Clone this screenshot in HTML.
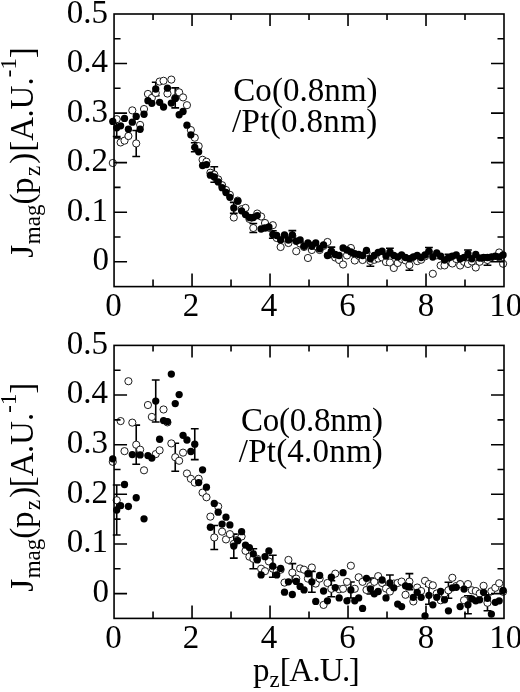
<!DOCTYPE html>
<html><head><meta charset="utf-8"><title>Magnetic Compton profiles</title>
<style>
html,body{margin:0;padding:0;background:#fff;}
body{width:520px;height:692px;overflow:hidden;position:relative;}
</style></head><body>
<svg width="520" height="692" viewBox="0 0 520 692" style="position:absolute;left:0;top:0">
<path d="M116.70 119.15V136.55M112.80 119.15h7.8M112.80 136.55h7.8M136.22 130.44V156.44M132.32 130.44h7.8M132.32 156.44h7.8M155.73 82.30V95.70M151.83 82.30h7.8M151.83 95.70h7.8M175.24 87.91V107.91M171.34 87.91h7.8M171.34 107.91h7.8M194.76 142.80V151.80M190.86 142.80h7.8M190.86 151.80h7.8M214.27 166.80V182.20M210.37 166.80h7.8M210.37 182.20h7.8M233.79 202.40V213.40M229.89 202.40h7.8M229.89 213.40h7.8M253.30 223.50V232.50M249.40 223.50h7.8M249.40 232.50h7.8M272.81 230.70V238.30M268.91 230.70h7.8M268.91 238.30h7.8M292.33 230.65V241.05M288.43 230.65h7.8M288.43 241.05h7.8M311.84 242.45V250.05M307.94 242.45h7.8M307.94 250.05h7.8M331.36 247.09V257.49M327.46 247.09h7.8M327.46 257.49h7.8M350.87 248.20V255.80M346.97 248.20h7.8M346.97 255.80h7.8M370.38 255.80V266.20M366.48 255.80h7.8M366.48 266.20h7.8M389.90 248.20V255.80M386.00 248.20h7.8M386.00 255.80h7.8M409.41 259.91V270.31M405.51 259.91h7.8M405.51 270.31h7.8M428.93 247.45V255.05M425.03 247.45h7.8M425.03 255.05h7.8M448.44 254.38V264.78M444.54 254.38h7.8M444.54 264.78h7.8M467.95 249.95V257.55M464.05 249.95h7.8M464.05 257.55h7.8M487.47 254.80V265.20M483.57 254.80h7.8M483.57 265.20h7.8" stroke="#000" stroke-width="1.6" fill="none"/>
<g fill="#fff" stroke="#111" stroke-width="0.95">
<circle cx="112.80" cy="163.00" r="3.6"/>
<circle cx="116.70" cy="119.19" r="3.6"/>
<circle cx="120.61" cy="142.45" r="3.6"/>
<circle cx="124.51" cy="140.67" r="3.6"/>
<circle cx="128.41" cy="136.02" r="3.6"/>
<circle cx="132.31" cy="110.38" r="3.6"/>
<circle cx="136.22" cy="143.44" r="3.6"/>
<circle cx="140.12" cy="124.93" r="3.6"/>
<circle cx="144.02" cy="109.04" r="3.6"/>
<circle cx="147.93" cy="93.94" r="3.6"/>
<circle cx="151.83" cy="97.91" r="3.6"/>
<circle cx="155.73" cy="92.95" r="3.6"/>
<circle cx="159.63" cy="81.57" r="3.6"/>
<circle cx="163.54" cy="80.78" r="3.6"/>
<circle cx="167.44" cy="93.55" r="3.6"/>
<circle cx="171.34" cy="79.59" r="3.6"/>
<circle cx="175.24" cy="97.91" r="3.6"/>
<circle cx="179.15" cy="92.31" r="3.6"/>
<circle cx="183.05" cy="97.41" r="3.6"/>
<circle cx="186.95" cy="105.18" r="3.6"/>
<circle cx="190.86" cy="130.08" r="3.6"/>
<circle cx="194.76" cy="137.70" r="3.6"/>
<circle cx="198.66" cy="146.17" r="3.6"/>
<circle cx="202.56" cy="159.80" r="3.6"/>
<circle cx="206.47" cy="161.70" r="3.6"/>
<circle cx="210.37" cy="172.70" r="3.6"/>
<circle cx="214.27" cy="174.50" r="3.6"/>
<circle cx="218.18" cy="179.40" r="3.6"/>
<circle cx="222.08" cy="185.20" r="3.6"/>
<circle cx="225.98" cy="190.00" r="3.6"/>
<circle cx="229.88" cy="194.80" r="3.6"/>
<circle cx="233.79" cy="217.50" r="3.6"/>
<circle cx="237.69" cy="200.64" r="3.6"/>
<circle cx="241.59" cy="209.21" r="3.6"/>
<circle cx="245.50" cy="207.90" r="3.6"/>
<circle cx="249.40" cy="218.91" r="3.6"/>
<circle cx="253.30" cy="228.00" r="3.6"/>
<circle cx="257.20" cy="213.53" r="3.6"/>
<circle cx="261.11" cy="216.50" r="3.6"/>
<circle cx="265.01" cy="223.00" r="3.6"/>
<circle cx="268.91" cy="227.72" r="3.6"/>
<circle cx="272.81" cy="225.20" r="3.6"/>
<circle cx="276.72" cy="238.00" r="3.6"/>
<circle cx="280.62" cy="247.00" r="3.6"/>
<circle cx="284.52" cy="237.69" r="3.6"/>
<circle cx="288.43" cy="243.00" r="3.6"/>
<circle cx="292.33" cy="235.85" r="3.6"/>
<circle cx="296.23" cy="251.25" r="3.6"/>
<circle cx="300.13" cy="243.54" r="3.6"/>
<circle cx="304.04" cy="246.97" r="3.6"/>
<circle cx="307.94" cy="258.00" r="3.6"/>
<circle cx="311.84" cy="250.00" r="3.6"/>
<circle cx="315.75" cy="246.10" r="3.6"/>
<circle cx="319.65" cy="250.00" r="3.6"/>
<circle cx="323.55" cy="245.92" r="3.6"/>
<circle cx="327.45" cy="242.00" r="3.6"/>
<circle cx="331.36" cy="252.29" r="3.6"/>
<circle cx="335.26" cy="257.55" r="3.6"/>
<circle cx="339.16" cy="260.00" r="3.6"/>
<circle cx="343.07" cy="264.50" r="3.6"/>
<circle cx="346.97" cy="255.46" r="3.6"/>
<circle cx="350.87" cy="248.00" r="3.6"/>
<circle cx="354.77" cy="260.50" r="3.6"/>
<circle cx="358.68" cy="255.74" r="3.6"/>
<circle cx="362.58" cy="260.00" r="3.6"/>
<circle cx="366.48" cy="252.34" r="3.6"/>
<circle cx="370.38" cy="261.00" r="3.6"/>
<circle cx="374.29" cy="259.76" r="3.6"/>
<circle cx="378.19" cy="258.50" r="3.6"/>
<circle cx="382.09" cy="257.44" r="3.6"/>
<circle cx="386.00" cy="262.00" r="3.6"/>
<circle cx="389.90" cy="262.50" r="3.6"/>
<circle cx="393.80" cy="268.00" r="3.6"/>
<circle cx="397.70" cy="263.00" r="3.6"/>
<circle cx="401.61" cy="258.96" r="3.6"/>
<circle cx="405.51" cy="260.38" r="3.6"/>
<circle cx="409.41" cy="265.11" r="3.6"/>
<circle cx="413.32" cy="257.78" r="3.6"/>
<circle cx="417.22" cy="261.15" r="3.6"/>
<circle cx="421.12" cy="259.74" r="3.6"/>
<circle cx="425.02" cy="256.37" r="3.6"/>
<circle cx="428.93" cy="252.46" r="3.6"/>
<circle cx="432.83" cy="273.75" r="3.6"/>
<circle cx="436.73" cy="255.35" r="3.6"/>
<circle cx="440.64" cy="265.50" r="3.6"/>
<circle cx="444.54" cy="265.40" r="3.6"/>
<circle cx="448.44" cy="259.58" r="3.6"/>
<circle cx="452.34" cy="263.50" r="3.6"/>
<circle cx="456.25" cy="258.99" r="3.6"/>
<circle cx="460.15" cy="265.50" r="3.6"/>
<circle cx="464.05" cy="261.83" r="3.6"/>
<circle cx="467.95" cy="264.00" r="3.6"/>
<circle cx="471.86" cy="261.48" r="3.6"/>
<circle cx="475.76" cy="267.50" r="3.6"/>
<circle cx="479.66" cy="261.79" r="3.6"/>
<circle cx="483.57" cy="258.38" r="3.6"/>
<circle cx="487.47" cy="260.00" r="3.6"/>
<circle cx="491.37" cy="257.86" r="3.6"/>
<circle cx="495.27" cy="257.99" r="3.6"/>
<circle cx="499.18" cy="252.50" r="3.6"/>
<circle cx="503.08" cy="263.75" r="3.6"/>
</g>
<path d="M116.70 485.02V535.02M112.80 485.02h7.8M112.80 535.02h7.8M136.22 425.10V464.30M132.32 425.10h7.8M132.32 464.30h7.8M155.73 380.05V422.05M151.83 380.05h7.8M151.83 422.05h7.8M175.24 443.20V471.20M171.34 443.20h7.8M171.34 471.20h7.8M194.76 428.80V459.60M190.86 428.80h7.8M190.86 459.60h7.8M214.27 525.45V549.45M210.37 525.45h7.8M210.37 549.45h7.8M233.79 534.08V558.08M229.89 534.08h7.8M229.89 558.08h7.8M253.30 548.78V568.78M249.40 548.78h7.8M249.40 568.78h7.8M272.81 555.22V577.22M268.91 555.22h7.8M268.91 577.22h7.8M292.33 563.62V581.62M288.43 563.62h7.8M288.43 581.62h7.8M311.84 571.44V592.24M307.94 571.44h7.8M307.94 592.24h7.8M331.36 580.79V596.79M327.46 580.79h7.8M327.46 596.79h7.8M350.87 581.93V597.93M346.97 581.93h7.8M346.97 597.93h7.8M370.38 578.06V594.06M366.48 578.06h7.8M366.48 594.06h7.8M389.90 574.98V590.98M386.00 574.98h7.8M386.00 590.98h7.8M409.41 573.60V589.60M405.51 573.60h7.8M405.51 589.60h7.8M428.93 586.29V604.29M425.03 586.29h7.8M425.03 604.29h7.8M448.44 582.28V598.28M444.54 582.28h7.8M444.54 598.28h7.8M467.95 595.81V613.81M464.05 595.81h7.8M464.05 613.81h7.8M487.47 594.78V610.78M483.57 594.78h7.8M483.57 610.78h7.8" stroke="#000" stroke-width="1.6" fill="none"/>
<g fill="#fff" stroke="#111" stroke-width="0.95">
<circle cx="112.80" cy="461.81" r="3.6"/>
<circle cx="116.70" cy="500.25" r="3.6"/>
<circle cx="120.61" cy="421.09" r="3.6"/>
<circle cx="124.51" cy="451.15" r="3.6"/>
<circle cx="128.41" cy="381.21" r="3.6"/>
<circle cx="132.31" cy="422.63" r="3.6"/>
<circle cx="136.22" cy="444.70" r="3.6"/>
<circle cx="140.12" cy="449.66" r="3.6"/>
<circle cx="144.02" cy="470.29" r="3.6"/>
<circle cx="147.93" cy="405.02" r="3.6"/>
<circle cx="151.83" cy="416.92" r="3.6"/>
<circle cx="155.73" cy="454.12" r="3.6"/>
<circle cx="159.63" cy="450.30" r="3.6"/>
<circle cx="163.54" cy="409.48" r="3.6"/>
<circle cx="167.44" cy="422.38" r="3.6"/>
<circle cx="171.34" cy="443.41" r="3.6"/>
<circle cx="175.24" cy="457.20" r="3.6"/>
<circle cx="179.15" cy="460.77" r="3.6"/>
<circle cx="183.05" cy="452.64" r="3.6"/>
<circle cx="186.95" cy="473.47" r="3.6"/>
<circle cx="190.86" cy="478.78" r="3.6"/>
<circle cx="194.76" cy="482.59" r="3.6"/>
<circle cx="198.66" cy="478.78" r="3.6"/>
<circle cx="202.56" cy="492.61" r="3.6"/>
<circle cx="206.47" cy="497.28" r="3.6"/>
<circle cx="210.37" cy="516.62" r="3.6"/>
<circle cx="214.27" cy="537.45" r="3.6"/>
<circle cx="218.18" cy="506.45" r="3.6"/>
<circle cx="222.08" cy="531.65" r="3.6"/>
<circle cx="225.98" cy="539.44" r="3.6"/>
<circle cx="229.88" cy="534.13" r="3.6"/>
<circle cx="233.79" cy="543.90" r="3.6"/>
<circle cx="237.69" cy="539.93" r="3.6"/>
<circle cx="241.59" cy="536.46" r="3.6"/>
<circle cx="245.50" cy="550.84" r="3.6"/>
<circle cx="249.40" cy="556.65" r="3.6"/>
<circle cx="253.30" cy="558.78" r="3.6"/>
<circle cx="257.20" cy="558.78" r="3.6"/>
<circle cx="261.11" cy="568.70" r="3.6"/>
<circle cx="265.01" cy="571.18" r="3.6"/>
<circle cx="268.91" cy="561.46" r="3.6"/>
<circle cx="272.81" cy="568.70" r="3.6"/>
<circle cx="276.72" cy="571.18" r="3.6"/>
<circle cx="280.62" cy="569.69" r="3.6"/>
<circle cx="284.52" cy="582.59" r="3.6"/>
<circle cx="288.43" cy="559.92" r="3.6"/>
<circle cx="292.33" cy="572.62" r="3.6"/>
<circle cx="296.23" cy="578.62" r="3.6"/>
<circle cx="300.13" cy="568.45" r="3.6"/>
<circle cx="304.04" cy="569.69" r="3.6"/>
<circle cx="307.94" cy="578.62" r="3.6"/>
<circle cx="311.84" cy="567.51" r="3.6"/>
<circle cx="315.75" cy="583.58" r="3.6"/>
<circle cx="319.65" cy="578.62" r="3.6"/>
<circle cx="323.55" cy="604.91" r="3.6"/>
<circle cx="327.45" cy="582.98" r="3.6"/>
<circle cx="331.36" cy="588.79" r="3.6"/>
<circle cx="335.26" cy="573.66" r="3.6"/>
<circle cx="339.16" cy="589.28" r="3.6"/>
<circle cx="343.07" cy="588.79" r="3.6"/>
<circle cx="346.97" cy="581.84" r="3.6"/>
<circle cx="350.87" cy="565.72" r="3.6"/>
<circle cx="354.77" cy="588.79" r="3.6"/>
<circle cx="358.68" cy="577.28" r="3.6"/>
<circle cx="362.58" cy="581.84" r="3.6"/>
<circle cx="366.48" cy="589.93" r="3.6"/>
<circle cx="370.38" cy="586.06" r="3.6"/>
<circle cx="374.29" cy="581.84" r="3.6"/>
<circle cx="378.19" cy="576.14" r="3.6"/>
<circle cx="382.09" cy="582.98" r="3.6"/>
<circle cx="386.00" cy="588.54" r="3.6"/>
<circle cx="389.90" cy="591.52" r="3.6"/>
<circle cx="393.80" cy="583.58" r="3.6"/>
<circle cx="397.70" cy="582.98" r="3.6"/>
<circle cx="401.61" cy="581.60" r="3.6"/>
<circle cx="405.51" cy="594.79" r="3.6"/>
<circle cx="409.41" cy="581.60" r="3.6"/>
<circle cx="413.32" cy="601.44" r="3.6"/>
<circle cx="417.22" cy="587.55" r="3.6"/>
<circle cx="421.12" cy="591.02" r="3.6"/>
<circle cx="425.02" cy="580.80" r="3.6"/>
<circle cx="428.93" cy="584.08" r="3.6"/>
<circle cx="432.83" cy="585.32" r="3.6"/>
<circle cx="436.73" cy="593.50" r="3.6"/>
<circle cx="440.64" cy="600.30" r="3.6"/>
<circle cx="444.54" cy="593.50" r="3.6"/>
<circle cx="448.44" cy="590.28" r="3.6"/>
<circle cx="452.34" cy="577.78" r="3.6"/>
<circle cx="456.25" cy="586.06" r="3.6"/>
<circle cx="460.15" cy="584.08" r="3.6"/>
<circle cx="464.05" cy="600.30" r="3.6"/>
<circle cx="467.95" cy="584.08" r="3.6"/>
<circle cx="471.86" cy="590.28" r="3.6"/>
<circle cx="475.76" cy="591.02" r="3.6"/>
<circle cx="479.66" cy="593.50" r="3.6"/>
<circle cx="483.57" cy="585.81" r="3.6"/>
<circle cx="487.47" cy="602.78" r="3.6"/>
<circle cx="491.37" cy="591.27" r="3.6"/>
<circle cx="495.27" cy="587.80" r="3.6"/>
<circle cx="499.18" cy="583.28" r="3.6"/>
<circle cx="503.08" cy="591.76" r="3.6"/>
</g>
<rect x="114.05" y="14.0" width="389.95" height="272.6" fill="none" stroke="#000" stroke-width="1.6"/>
<path d="M153.04 286.6v-7M153.04 14.0v6M192.04 286.6v-13M192.04 14.0v12M231.03 286.6v-7M231.03 14.0v6M270.03 286.6v-13M270.03 14.0v12M309.02 286.6v-7M309.02 14.0v6M348.02 286.6v-13M348.02 14.0v12M387.02 286.6v-7M387.02 14.0v6M426.01 286.6v-13M426.01 14.0v12M465.00 286.6v-7M465.00 14.0v6M114.05 261.75h13M504.0 261.75h-13M114.05 236.97h6.5M504.0 236.97h-6.5M114.05 212.20h13M504.0 212.20h-13M114.05 187.42h6.5M504.0 187.42h-6.5M114.05 162.65h13M504.0 162.65h-13M114.05 137.87h6.5M504.0 137.87h-6.5M114.05 113.10h13M504.0 113.10h-13M114.05 88.32h6.5M504.0 88.32h-6.5M114.05 63.55h13M504.0 63.55h-13M114.05 38.78h6.5M504.0 38.78h-6.5" stroke="#000" stroke-width="1.6" fill="none"/>
<rect x="114.05" y="345.4" width="389.95" height="273.0" fill="none" stroke="#000" stroke-width="1.6"/>
<path d="M153.04 618.4v-7M153.04 345.4v6M192.04 618.4v-13M192.04 345.4v12M231.03 618.4v-7M231.03 345.4v6M270.03 618.4v-13M270.03 345.4v12M309.02 618.4v-7M309.02 345.4v6M348.02 618.4v-13M348.02 345.4v12M387.02 618.4v-7M387.02 345.4v6M426.01 618.4v-13M426.01 345.4v12M465.00 618.4v-7M465.00 345.4v6M114.05 593.60h13M504.0 593.60h-13M114.05 568.78h6.5M504.0 568.78h-6.5M114.05 543.96h13M504.0 543.96h-13M114.05 519.14h6.5M504.0 519.14h-6.5M114.05 494.32h13M504.0 494.32h-13M114.05 469.50h6.5M504.0 469.50h-6.5M114.05 444.68h13M504.0 444.68h-13M114.05 419.86h6.5M504.0 419.86h-6.5M114.05 395.04h13M504.0 395.04h-13M114.05 370.22h6.5M504.0 370.22h-6.5" stroke="#000" stroke-width="1.6" fill="none"/>
<g fill="#000">
<circle cx="112.80" cy="121.42" r="3.65"/>
<circle cx="116.70" cy="127.85" r="3.65"/>
<circle cx="120.61" cy="125.87" r="3.65"/>
<circle cx="124.51" cy="118.45" r="3.65"/>
<circle cx="128.41" cy="129.24" r="3.65"/>
<circle cx="132.31" cy="122.16" r="3.65"/>
<circle cx="136.22" cy="116.42" r="3.65"/>
<circle cx="140.12" cy="129.24" r="3.65"/>
<circle cx="144.02" cy="114.24" r="3.65"/>
<circle cx="147.93" cy="100.68" r="3.65"/>
<circle cx="151.83" cy="103.35" r="3.65"/>
<circle cx="155.73" cy="89.00" r="3.65"/>
<circle cx="159.63" cy="102.36" r="3.65"/>
<circle cx="163.54" cy="107.01" r="3.65"/>
<circle cx="167.44" cy="88.15" r="3.65"/>
<circle cx="171.34" cy="103.10" r="3.65"/>
<circle cx="175.24" cy="98.40" r="3.65"/>
<circle cx="179.15" cy="114.74" r="3.65"/>
<circle cx="183.05" cy="111.52" r="3.65"/>
<circle cx="186.95" cy="125.13" r="3.65"/>
<circle cx="190.86" cy="134.80" r="3.65"/>
<circle cx="194.76" cy="147.30" r="3.65"/>
<circle cx="198.66" cy="151.80" r="3.65"/>
<circle cx="202.56" cy="165.60" r="3.65"/>
<circle cx="206.47" cy="164.60" r="3.65"/>
<circle cx="210.37" cy="175.20" r="3.65"/>
<circle cx="214.27" cy="177.00" r="3.65"/>
<circle cx="218.18" cy="181.90" r="3.65"/>
<circle cx="222.08" cy="187.70" r="3.65"/>
<circle cx="225.98" cy="192.50" r="3.65"/>
<circle cx="229.88" cy="197.30" r="3.65"/>
<circle cx="233.79" cy="207.90" r="3.65"/>
<circle cx="237.69" cy="201.20" r="3.65"/>
<circle cx="241.59" cy="210.80" r="3.65"/>
<circle cx="245.50" cy="214.60" r="3.65"/>
<circle cx="249.40" cy="217.50" r="3.65"/>
<circle cx="253.30" cy="217.50" r="3.65"/>
<circle cx="257.20" cy="215.60" r="3.65"/>
<circle cx="261.11" cy="229.00" r="3.65"/>
<circle cx="265.01" cy="228.00" r="3.65"/>
<circle cx="268.91" cy="227.00" r="3.65"/>
<circle cx="272.81" cy="234.50" r="3.65"/>
<circle cx="276.72" cy="235.50" r="3.65"/>
<circle cx="280.62" cy="240.00" r="3.65"/>
<circle cx="284.52" cy="235.00" r="3.65"/>
<circle cx="288.43" cy="240.00" r="3.65"/>
<circle cx="292.33" cy="235.00" r="3.65"/>
<circle cx="296.23" cy="241.25" r="3.65"/>
<circle cx="300.13" cy="240.00" r="3.65"/>
<circle cx="304.04" cy="246.25" r="3.65"/>
<circle cx="307.94" cy="243.00" r="3.65"/>
<circle cx="311.84" cy="246.25" r="3.65"/>
<circle cx="315.75" cy="243.00" r="3.65"/>
<circle cx="319.65" cy="248.75" r="3.65"/>
<circle cx="323.55" cy="245.00" r="3.65"/>
<circle cx="327.45" cy="255.50" r="3.65"/>
<circle cx="331.36" cy="251.25" r="3.65"/>
<circle cx="335.26" cy="254.50" r="3.65"/>
<circle cx="339.16" cy="255.50" r="3.65"/>
<circle cx="343.07" cy="248.00" r="3.65"/>
<circle cx="346.97" cy="250.00" r="3.65"/>
<circle cx="350.87" cy="252.00" r="3.65"/>
<circle cx="354.77" cy="253.75" r="3.65"/>
<circle cx="358.68" cy="254.50" r="3.65"/>
<circle cx="362.58" cy="255.50" r="3.65"/>
<circle cx="366.48" cy="250.50" r="3.65"/>
<circle cx="370.38" cy="258.75" r="3.65"/>
<circle cx="374.29" cy="255.50" r="3.65"/>
<circle cx="378.19" cy="252.50" r="3.65"/>
<circle cx="382.09" cy="251.25" r="3.65"/>
<circle cx="386.00" cy="256.00" r="3.65"/>
<circle cx="389.90" cy="252.00" r="3.65"/>
<circle cx="393.80" cy="255.50" r="3.65"/>
<circle cx="397.70" cy="257.00" r="3.65"/>
<circle cx="401.61" cy="255.00" r="3.65"/>
<circle cx="405.51" cy="257.50" r="3.65"/>
<circle cx="409.41" cy="258.75" r="3.65"/>
<circle cx="413.32" cy="257.00" r="3.65"/>
<circle cx="417.22" cy="255.50" r="3.65"/>
<circle cx="421.12" cy="257.50" r="3.65"/>
<circle cx="425.02" cy="255.00" r="3.65"/>
<circle cx="428.93" cy="251.25" r="3.65"/>
<circle cx="432.83" cy="257.00" r="3.65"/>
<circle cx="436.73" cy="253.00" r="3.65"/>
<circle cx="440.64" cy="256.25" r="3.65"/>
<circle cx="444.54" cy="260.00" r="3.65"/>
<circle cx="448.44" cy="258.00" r="3.65"/>
<circle cx="452.34" cy="256.25" r="3.65"/>
<circle cx="456.25" cy="255.00" r="3.65"/>
<circle cx="460.15" cy="258.75" r="3.65"/>
<circle cx="464.05" cy="257.50" r="3.65"/>
<circle cx="467.95" cy="253.75" r="3.65"/>
<circle cx="471.86" cy="258.75" r="3.65"/>
<circle cx="475.76" cy="254.50" r="3.65"/>
<circle cx="479.66" cy="258.00" r="3.65"/>
<circle cx="483.57" cy="257.50" r="3.65"/>
<circle cx="487.47" cy="257.50" r="3.65"/>
<circle cx="491.37" cy="257.00" r="3.65"/>
<circle cx="495.27" cy="256.25" r="3.65"/>
<circle cx="499.18" cy="257.00" r="3.65"/>
<circle cx="503.08" cy="255.00" r="3.65"/>
</g>
<g fill="#000">
<circle cx="112.80" cy="458.79" r="3.65"/>
<circle cx="116.70" cy="510.02" r="3.65"/>
<circle cx="120.61" cy="505.71" r="3.65"/>
<circle cx="124.51" cy="484.48" r="3.65"/>
<circle cx="128.41" cy="506.50" r="3.65"/>
<circle cx="132.31" cy="454.62" r="3.65"/>
<circle cx="136.22" cy="497.77" r="3.65"/>
<circle cx="140.12" cy="454.92" r="3.65"/>
<circle cx="144.02" cy="518.80" r="3.65"/>
<circle cx="147.93" cy="455.61" r="3.65"/>
<circle cx="151.83" cy="458.09" r="3.65"/>
<circle cx="155.73" cy="401.05" r="3.65"/>
<circle cx="159.63" cy="439.24" r="3.65"/>
<circle cx="163.54" cy="420.59" r="3.65"/>
<circle cx="167.44" cy="421.54" r="3.65"/>
<circle cx="171.34" cy="374.12" r="3.65"/>
<circle cx="175.24" cy="403.53" r="3.65"/>
<circle cx="179.15" cy="394.60" r="3.65"/>
<circle cx="183.05" cy="435.28" r="3.65"/>
<circle cx="186.95" cy="439.99" r="3.65"/>
<circle cx="190.86" cy="451.50" r="3.65"/>
<circle cx="194.76" cy="444.20" r="3.65"/>
<circle cx="198.66" cy="482.59" r="3.65"/>
<circle cx="202.56" cy="469.80" r="3.65"/>
<circle cx="206.47" cy="487.21" r="3.65"/>
<circle cx="210.37" cy="527.23" r="3.65"/>
<circle cx="214.27" cy="503.38" r="3.65"/>
<circle cx="218.18" cy="512.16" r="3.65"/>
<circle cx="222.08" cy="524.06" r="3.65"/>
<circle cx="225.98" cy="517.22" r="3.65"/>
<circle cx="229.88" cy="524.90" r="3.65"/>
<circle cx="233.79" cy="546.08" r="3.65"/>
<circle cx="237.69" cy="540.68" r="3.65"/>
<circle cx="241.59" cy="531.65" r="3.65"/>
<circle cx="245.50" cy="545.09" r="3.65"/>
<circle cx="249.40" cy="547.62" r="3.65"/>
<circle cx="253.30" cy="553.82" r="3.65"/>
<circle cx="257.20" cy="559.92" r="3.65"/>
<circle cx="261.11" cy="574.90" r="3.65"/>
<circle cx="265.01" cy="556.65" r="3.65"/>
<circle cx="268.91" cy="550.89" r="3.65"/>
<circle cx="272.81" cy="566.22" r="3.65"/>
<circle cx="276.72" cy="574.90" r="3.65"/>
<circle cx="280.62" cy="568.45" r="3.65"/>
<circle cx="284.52" cy="592.21" r="3.65"/>
<circle cx="288.43" cy="581.84" r="3.65"/>
<circle cx="292.33" cy="594.49" r="3.65"/>
<circle cx="296.23" cy="581.40" r="3.65"/>
<circle cx="300.13" cy="586.46" r="3.65"/>
<circle cx="304.04" cy="589.93" r="3.65"/>
<circle cx="307.94" cy="573.76" r="3.65"/>
<circle cx="311.84" cy="581.84" r="3.65"/>
<circle cx="315.75" cy="601.44" r="3.65"/>
<circle cx="319.65" cy="575.40" r="3.65"/>
<circle cx="323.55" cy="591.02" r="3.65"/>
<circle cx="327.45" cy="600.79" r="3.65"/>
<circle cx="331.36" cy="577.23" r="3.65"/>
<circle cx="335.26" cy="587.55" r="3.65"/>
<circle cx="339.16" cy="597.96" r="3.65"/>
<circle cx="343.07" cy="572.67" r="3.65"/>
<circle cx="346.97" cy="600.79" r="3.65"/>
<circle cx="350.87" cy="589.93" r="3.65"/>
<circle cx="354.77" cy="600.79" r="3.65"/>
<circle cx="358.68" cy="597.96" r="3.65"/>
<circle cx="362.58" cy="608.38" r="3.65"/>
<circle cx="366.48" cy="578.37" r="3.65"/>
<circle cx="370.38" cy="588.79" r="3.65"/>
<circle cx="374.29" cy="593.85" r="3.65"/>
<circle cx="378.19" cy="591.52" r="3.65"/>
<circle cx="382.09" cy="580.01" r="3.65"/>
<circle cx="386.00" cy="597.96" r="3.65"/>
<circle cx="389.90" cy="582.98" r="3.65"/>
<circle cx="393.80" cy="587.80" r="3.65"/>
<circle cx="397.70" cy="604.06" r="3.65"/>
<circle cx="401.61" cy="606.54" r="3.65"/>
<circle cx="405.51" cy="585.81" r="3.65"/>
<circle cx="409.41" cy="586.56" r="3.65"/>
<circle cx="413.32" cy="597.32" r="3.65"/>
<circle cx="417.22" cy="592.31" r="3.65"/>
<circle cx="421.12" cy="597.32" r="3.65"/>
<circle cx="425.02" cy="615.82" r="3.65"/>
<circle cx="428.93" cy="595.29" r="3.65"/>
<circle cx="432.83" cy="604.81" r="3.65"/>
<circle cx="436.73" cy="597.32" r="3.65"/>
<circle cx="440.64" cy="591.52" r="3.65"/>
<circle cx="444.54" cy="599.80" r="3.65"/>
<circle cx="448.44" cy="610.86" r="3.65"/>
<circle cx="452.34" cy="587.80" r="3.65"/>
<circle cx="456.25" cy="587.30" r="3.65"/>
<circle cx="460.15" cy="606.54" r="3.65"/>
<circle cx="464.05" cy="589.04" r="3.65"/>
<circle cx="467.95" cy="604.81" r="3.65"/>
<circle cx="471.86" cy="598.96" r="3.65"/>
<circle cx="475.76" cy="600.79" r="3.65"/>
<circle cx="479.66" cy="599.80" r="3.65"/>
<circle cx="483.57" cy="592.31" r="3.65"/>
<circle cx="487.47" cy="598.31" r="3.65"/>
<circle cx="491.37" cy="614.03" r="3.65"/>
<circle cx="495.27" cy="602.28" r="3.65"/>
<circle cx="499.18" cy="600.79" r="3.65"/>
<circle cx="503.08" cy="590.28" r="3.65"/>
</g>
<g font-family="'Liberation Serif', serif" font-size="33px" fill="#000">
<text x="109" y="270.4" text-anchor="end">0</text>
<text x="108" y="220.8" text-anchor="end">0.1</text>
<text x="108" y="171.3" text-anchor="end">0.2</text>
<text x="108" y="121.8" text-anchor="end">0.3</text>
<text x="108" y="72.3" text-anchor="end">0.4</text>
<text x="108" y="22.9" text-anchor="end">0.5</text>
<text x="109" y="601.8" text-anchor="end">0</text>
<text x="108" y="552.2" text-anchor="end">0.1</text>
<text x="108" y="502.6" text-anchor="end">0.2</text>
<text x="108" y="453.0" text-anchor="end">0.3</text>
<text x="108" y="403.4" text-anchor="end">0.4</text>
<text x="108" y="353.8" text-anchor="end">0.5</text>
<text x="113.5" y="316.2" text-anchor="middle">0</text>
<text x="191.0" y="316.2" text-anchor="middle">2</text>
<text x="269.0" y="316.2" text-anchor="middle">4</text>
<text x="347.4" y="316.2" text-anchor="middle">6</text>
<text x="426.0" y="316.2" text-anchor="middle">8</text>
<text x="505.8" y="316.2" text-anchor="middle">10</text>
<text x="113.5" y="647.9" text-anchor="middle">0</text>
<text x="191.0" y="647.9" text-anchor="middle">2</text>
<text x="269.0" y="647.9" text-anchor="middle">4</text>
<text x="347.4" y="647.9" text-anchor="middle">6</text>
<text x="426.0" y="647.9" text-anchor="middle">8</text>
<text x="505.8" y="647.9" text-anchor="middle">10</text>
<text x="233.3" y="100.8" textLength="144.3" lengthAdjust="spacing">Co(0.8nm)</text>
<text x="232" y="132" textLength="145.2" lengthAdjust="spacing">/Pt(0.8nm)</text>
<text x="241" y="431.2" textLength="142" lengthAdjust="spacing">Co(0.8nm)</text>
<text x="238.8" y="462.3" textLength="144" lengthAdjust="spacing">/Pt(4.0nm)</text>
<text y="680.7"><tspan x="253" dy="0" font-size="33px">p</tspan><tspan x="269.5" dy="6" font-size="23px">z</tspan><tspan x="279.7" dy="-6" font-size="33px">[</tspan><tspan x="289.2" dy="0" font-size="33px">A</tspan><tspan x="312.5" dy="0" font-size="33px">.</tspan><tspan x="319.8" dy="0" font-size="33px">U</tspan><tspan x="342.1" dy="0" font-size="33px">.</tspan><tspan x="348.8" dy="0" font-size="33px">]</tspan></text>
<text transform="translate(32.7,253) rotate(-90)" y="0"><tspan x="-4.7" dy="0" font-size="33px">J</tspan><tspan x="8.84" dy="7" font-size="23px">mag</tspan><tspan x="48.4" dy="-7" font-size="33px">(</tspan><tspan x="59" dy="0" font-size="33px">p</tspan><tspan x="77" dy="7" font-size="23px">z</tspan><tspan x="89.3" dy="-7" font-size="33px">)</tspan><tspan x="101.15" dy="0" font-size="33px">[</tspan><tspan x="112.15" dy="0" font-size="33px">A</tspan><tspan x="135.5" dy="0" font-size="33px">.</tspan><tspan x="143.4" dy="0" font-size="33px">U</tspan><tspan x="167.5" dy="0" font-size="33px">.</tspan><tspan x="175.8" dy="-17" font-size="23px">-1</tspan><tspan x="194.8" dy="17" font-size="33px">]</tspan></text>
<text transform="translate(32.7,588.5) rotate(-90)" y="0"><tspan x="-3.3000000000000003" dy="0" font-size="33px">J</tspan><tspan x="10.24" dy="7" font-size="23px">mag</tspan><tspan x="49.8" dy="-7" font-size="33px">(</tspan><tspan x="60.4" dy="0" font-size="33px">p</tspan><tspan x="78.4" dy="7" font-size="23px">z</tspan><tspan x="90.7" dy="-7" font-size="33px">)</tspan><tspan x="101.15" dy="0" font-size="33px">[</tspan><tspan x="112.15" dy="0" font-size="33px">A</tspan><tspan x="135.5" dy="0" font-size="33px">.</tspan><tspan x="143.4" dy="0" font-size="33px">U</tspan><tspan x="167.5" dy="0" font-size="33px">.</tspan><tspan x="175.8" dy="-17" font-size="23px">-1</tspan><tspan x="194.8" dy="17" font-size="33px">]</tspan></text>
</g>
</svg>
</body></html>
